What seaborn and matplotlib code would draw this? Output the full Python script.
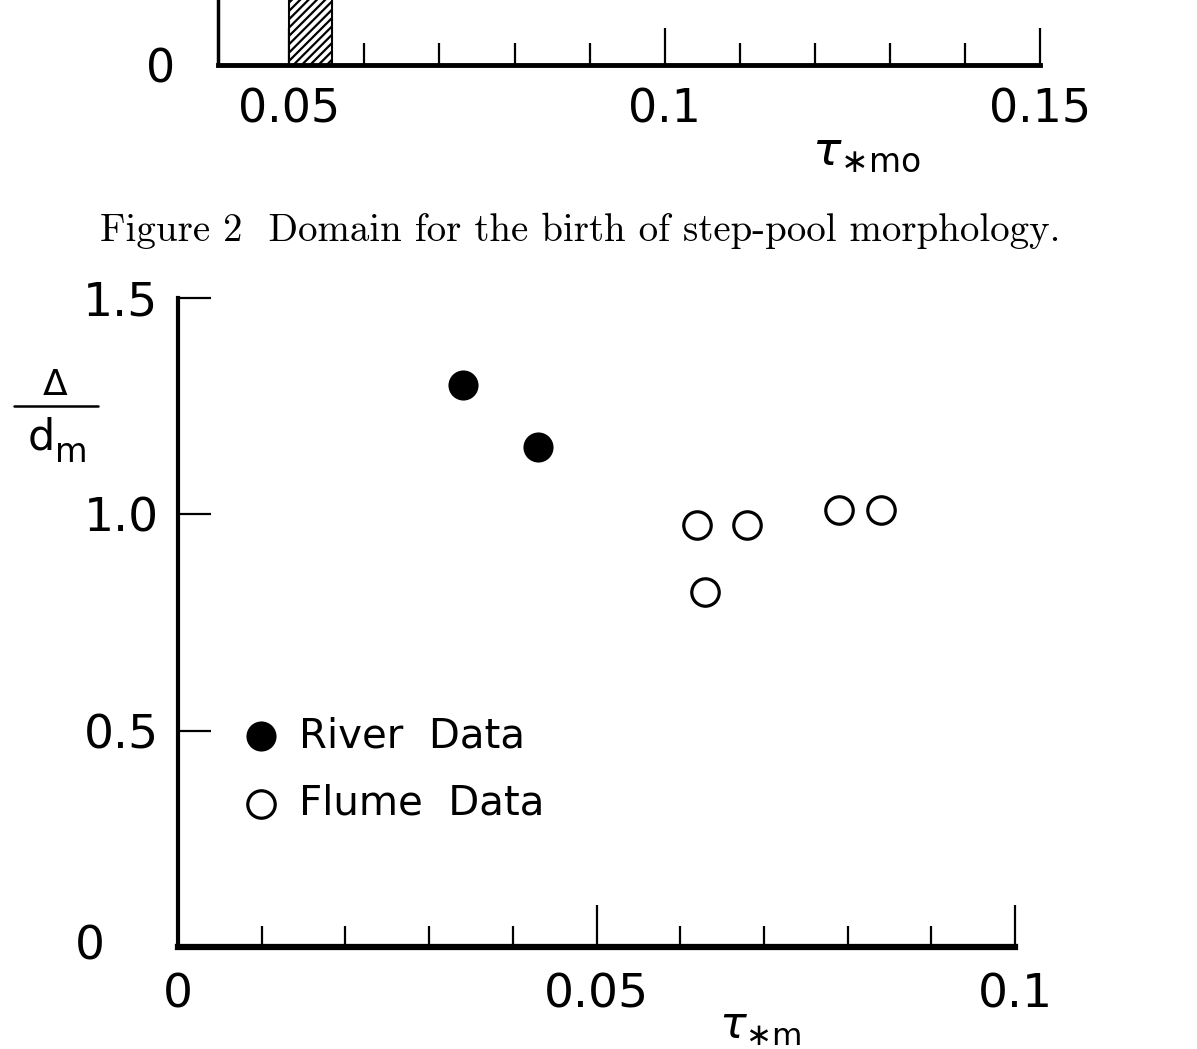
import matplotlib

matplotlib.use("Agg")
import matplotlib.pyplot as plt
import seaborn as sns
from matplotlib.lines import Line2D
from matplotlib.ticker import FixedLocator

W, H = 1197, 1049

# upper figure (only its bottom edge is on the page)
domain_lo = 0.05
domain_hi = 0.0557
top_ticks = [0.05, 0.1, 0.15]
top_ticklabels = ["0.05", "0.1", "0.15"]
top_minor = [0.06, 0.07, 0.08, 0.09, 0.11, 0.12, 0.13, 0.14]

# lower figure: relative step height against tau*m
river_x = [0.034, 0.043]
river_y = [1.30, 1.155]
flume_x = [0.062, 0.068, 0.063, 0.079, 0.084]
flume_y = [0.975, 0.975, 0.82, 1.01, 1.01]
x_ticks = [0, 0.05, 0.1]
x_ticklabels = ["0", "0.05", "0.1"]
x_minor = [0.01, 0.02, 0.03, 0.04, 0.06, 0.07, 0.08, 0.09]
y_ticks = [0.5, 1.0, 1.5]
y_ticklabels = ["0.5", "1.0", "1.5"]

caption = "Figure 2  Domain for the birth of step-pool morphology."


def px(x, y):
    return x / W, 1 - y / H


sns.set_theme(style="white")
plt.rcParams["font.family"] = ["DejaVu Sans"]
plt.rcParams["mathtext.fontset"] = "dejavusans"
plt.rcParams["hatch.linewidth"] = 1.6
plt.rcParams["text.color"] = "black"
plt.rcParams["xtick.color"] = "black"
plt.rcParams["ytick.color"] = "black"
plt.rcParams["xtick.labelcolor"] = "black"
plt.rcParams["ytick.labelcolor"] = "black"

fig = plt.figure(figsize=(W / 100, H / 100), dpi=100)
fig.patch.set_facecolor("white")

# ---- upper axes -------------------------------------------------------
l, b = px(218, 65)
r, _ = px(1040, 0)
ax_top = fig.add_axes([l, b, r - l, 0.2])
ax_top.bar(domain_lo, 5, width=domain_hi - domain_lo, align="edge",
           facecolor="white", edgecolor="black", hatch="////", linewidth=1.5)
ax_top.set_xlim(0.0405, 0.15)
ax_top.set_ylim(0, 1)
ax_top.set_xticks(top_ticks)
ax_top.set_xticklabels(top_ticklabels)
ax_top.xaxis.set_minor_locator(FixedLocator(top_minor))
ax_top.set_yticks([0])
ax_top.set_yticklabels(["0"])
ax_top.tick_params(axis="x", which="major", direction="in", length=27, width=1.6,
                   pad=16, labelsize=33, bottom=True)
ax_top.tick_params(axis="x", which="minor", direction="in", length=16, width=1.6,
                   bottom=True)
ax_top.tick_params(axis="y", length=0, pad=31, labelsize=33)
for side in ["top", "right"]:
    ax_top.spines[side].set_visible(False)
ax_top.spines["bottom"].set_linewidth(3.5)
ax_top.spines["left"].set_linewidth(2.5)
for sp in ax_top.spines.values():
    sp.set_color("black")

fig.text(*px(866, 152), r"$\tau_{\ast\mathrm{mo}}$", fontsize=34,
         ha="center", va="center")

fig.text(*px(580, 231), caption, fontsize=28, family="cmr10",
         ha="center", va="center")

# ---- lower axes -------------------------------------------------------
l, b = px(178, 947)
r, t = px(1015, 298)
ax = fig.add_axes([l, b, r - l, t - b])

sns.scatterplot(x=river_x, y=river_y, ax=ax, s=470, color="black",
                edgecolor="black", linewidth=0, label="River  Data")
sns.scatterplot(x=flume_x, y=flume_y, ax=ax, s=390, color="black",
                facecolor="white", edgecolor="black", linewidth=2.3,
                label="Flume  Data")

ax.set_xlim(0, 0.1)
ax.set_ylim(0, 1.5)
ax.set_xticks(x_ticks)
ax.set_xticklabels(x_ticklabels)
ax.xaxis.set_minor_locator(FixedLocator(x_minor))
ax.set_yticks(y_ticks)
ax.set_yticklabels(y_ticklabels)
ax.tick_params(axis="x", which="major", direction="in", length=30, width=1.6,
               pad=18, labelsize=34, bottom=True)
ax.tick_params(axis="x", which="minor", direction="in", length=15, width=1.6,
               bottom=True)
ax.tick_params(axis="y", which="major", direction="in", length=24, width=1.6,
               pad=14, labelsize=34, left=True)
ax.text(-0.105, 0, "0", transform=ax.get_yaxis_transform(), fontsize=34,
        ha="center", va="center")
ax.set_xlabel("")
ax.set_ylabel("")
for side in ["top", "right"]:
    ax.spines[side].set_visible(False)
ax.spines["bottom"].set_linewidth(4.5)
ax.spines["left"].set_linewidth(3)
for sp in ax.spines.values():
    sp.set_color("black")

ax.legend(loc="upper left", bbox_to_anchor=px(241, 716),
          bbox_transform=fig.transFigure, frameon=False, fontsize=29,
          handlelength=1.0, handletextpad=0.45, labelspacing=0.68,
          borderpad=0, borderaxespad=0)

# y label drawn as a stacked fraction
fig.text(*px(55, 385), "\u0394", fontsize=26, ha="center", va="center")
fig.add_artist(Line2D([14 / W, 98 / W], [1 - 406 / H, 1 - 406 / H],
                      color="black", linewidth=1.8))
fig.text(*px(41, 437), "d", fontsize=31, ha="center", va="center")
fig.text(*px(71, 452), "m", fontsize=24, ha="center", va="center")

fig.text(*px(760, 1027), r"$\tau_{\ast\mathrm{m}}$", fontsize=32,
         ha="center", va="center")

fig.savefig("out.png", dpi=100, facecolor="white")
